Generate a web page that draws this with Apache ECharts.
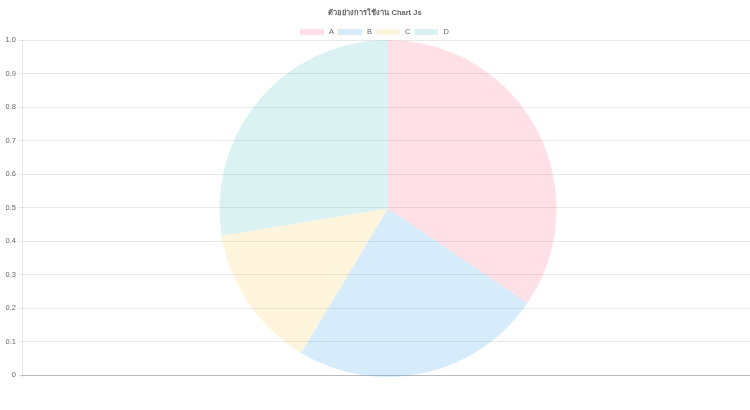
<!DOCTYPE html>
<html>
<head>
<meta charset="utf-8">
<script src="https://cdn.jsdelivr.net/npm/echarts@6/dist/echarts.min.js"></script>
<style>
html,body{margin:0;padding:0;background:#fff;}
#chart{width:750px;height:410px;}
</style>
</head>
<body>
<div id="chart"></div>
<script>
const titleText = 'ตัวอย่างการใช้งาน Chart Js';
const categories = ['A', 'B', 'C', 'D'];
const values = [25, 17.5, 10, 20];
const sliceColors = ['rgba(255,99,132,0.2)', 'rgba(54,162,235,0.2)', 'rgba(255,206,86,0.2)', 'rgba(75,192,192,0.2)'];
const yTickLabels = ['0', '0.1', '0.2', '0.3', '0.4', '0.5', '0.6', '0.7', '0.8', '0.9', '1.0'];

const FONT = '"Helvetica Neue", Helvetica, Arial, "Liberation Sans", sans-serif';
const chart = echarts.init(document.getElementById('chart'));
chart.setOption({
  animation: false,
  title: {
    text: titleText,
    left: 'center',
    top: 7,
    padding: 0,
    textStyle: { fontSize: 7.5, fontWeight: 'bold', color: '#666', fontFamily: FONT, lineHeight: 12 }
  },
  legend: {
    data: categories,
    left: 300,
    top: 27,
    padding: 0,
    icon: 'rect',
    itemWidth: 24,
    itemHeight: 6,
    itemGap: 4,
    selectedMode: false,
    textStyle: { fontSize: 7.5, color: '#666', fontFamily: FONT, lineHeight: 10 }
  },
  grid: { left: 22, right: 0, top: 40, bottom: 35, containLabel: false },
  xAxis: {
    type: 'value', min: 0, max: 1, interval: 1,
    axisLabel: { show: false },
    splitLine: { show: false },
    axisLine: { show: true, lineStyle: { color: 'rgba(0,0,0,0.2)', width: 1 } },
    axisTick: { show: true, length: 3, lineStyle: { color: 'rgba(0,0,0,0.1)' } }
  },
  yAxis: {
    type: 'value', min: 0, max: 1, interval: 0.1,
    axisLine: { show: true, lineStyle: { color: 'rgba(0,0,0,0.09)' } },
    axisTick: { show: true, length: 4, lineStyle: { color: 'rgba(0,0,0,0.09)' } },
    splitLine: { show: true, lineStyle: { color: 'rgba(0,0,0,0.09)' } },
    axisLabel: {
      margin: 6, fontSize: 7.5, color: '#666', fontFamily: FONT,
      formatter: function (v, i) { return yTickLabels[Math.round(v * 10)]; }
    }
  },
  series: [{
    type: 'pie',
    center: [388, 208.5],
    radius: 168.5,
    startAngle: 90,
    clockwise: true,
    label: { show: false },
    labelLine: { show: false },
    emphasis: { disabled: true },
    itemStyle: { borderWidth: 0 },
    data: categories.map((c, i) => ({ name: c, value: values[i], itemStyle: { color: sliceColors[i] } }))
  }]
});
</script>
</body>
</html>
